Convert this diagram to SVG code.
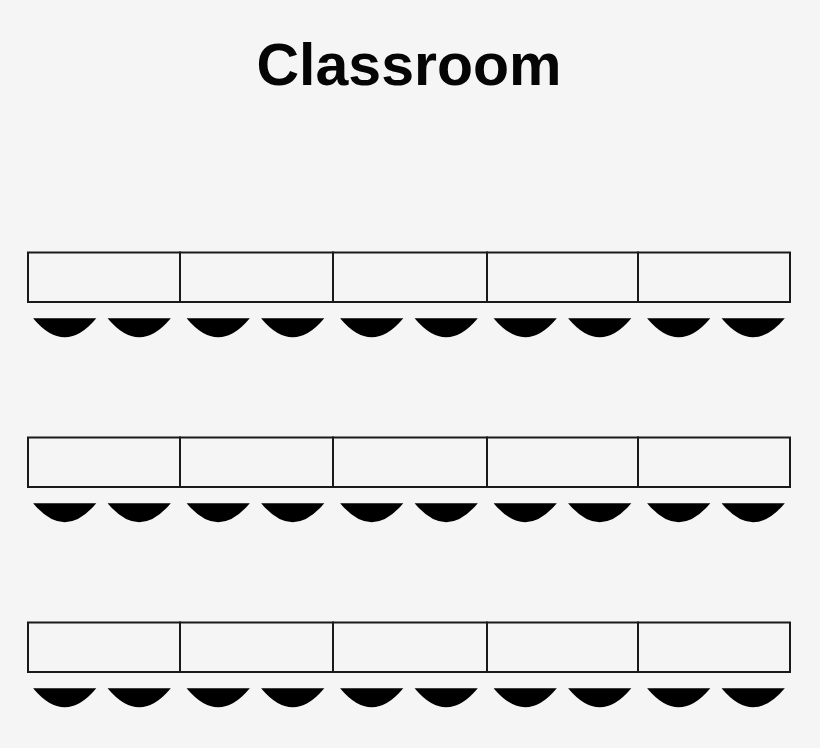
<svg xmlns="http://www.w3.org/2000/svg" xmlns:xlink="http://www.w3.org/1999/xlink" width="820" height="748" viewBox="0 0 820 748">
<style>
.title{font-family:"Liberation Sans",Arial,sans-serif;font-weight:bold;font-size:60px;fill:#050505}
.desk{fill:#f5f5f5;stroke:#1a1a1a;stroke-width:2}
.chair{fill:#000}
</style>
<defs>
<path id="chair" class="chair" d="M-31.6,0 Q0,38 31.6,0 Z"/>
</defs>
<rect width="820" height="748" fill="#f5f5f5"/>
<text class="title" x="409" y="85" text-anchor="middle" textLength="305" lengthAdjust="spacingAndGlyphs">Classroom</text>

<g id="row1">
<g id="desk-1-1"><rect class="desk" x="28" y="252.5" width="152" height="49.5"/><use xlink:href="#chair" x="64.7" y="318.2"/><use xlink:href="#chair" x="139.2" y="318.2"/></g>
<g id="desk-1-2"><rect class="desk" x="180" y="252.5" width="153" height="49.5"/><use xlink:href="#chair" x="218.2" y="318.2"/><use xlink:href="#chair" x="292.7" y="318.2"/></g>
<g id="desk-1-3"><rect class="desk" x="333" y="252.5" width="154" height="49.5"/><use xlink:href="#chair" x="371.7" y="318.2"/><use xlink:href="#chair" x="446.2" y="318.2"/></g>
<g id="desk-1-4"><rect class="desk" x="487" y="252.5" width="151" height="49.5"/><use xlink:href="#chair" x="525.2" y="318.2"/><use xlink:href="#chair" x="599.7" y="318.2"/></g>
<g id="desk-1-5"><rect class="desk" x="638" y="252.5" width="152" height="49.5"/><use xlink:href="#chair" x="678.7" y="318.2"/><use xlink:href="#chair" x="753.2" y="318.2"/></g>
</g>

<g id="row2">
<g id="desk-2-1"><rect class="desk" x="28" y="437.5" width="152" height="49.5"/><use xlink:href="#chair" x="64.7" y="503.2"/><use xlink:href="#chair" x="139.2" y="503.2"/></g>
<g id="desk-2-2"><rect class="desk" x="180" y="437.5" width="153" height="49.5"/><use xlink:href="#chair" x="218.2" y="503.2"/><use xlink:href="#chair" x="292.7" y="503.2"/></g>
<g id="desk-2-3"><rect class="desk" x="333" y="437.5" width="154" height="49.5"/><use xlink:href="#chair" x="371.7" y="503.2"/><use xlink:href="#chair" x="446.2" y="503.2"/></g>
<g id="desk-2-4"><rect class="desk" x="487" y="437.5" width="151" height="49.5"/><use xlink:href="#chair" x="525.2" y="503.2"/><use xlink:href="#chair" x="599.7" y="503.2"/></g>
<g id="desk-2-5"><rect class="desk" x="638" y="437.5" width="152" height="49.5"/><use xlink:href="#chair" x="678.7" y="503.2"/><use xlink:href="#chair" x="753.2" y="503.2"/></g>
</g>

<g id="row3">
<g id="desk-3-1"><rect class="desk" x="28" y="622.5" width="152" height="49.5"/><use xlink:href="#chair" x="64.7" y="688.2"/><use xlink:href="#chair" x="139.2" y="688.2"/></g>
<g id="desk-3-2"><rect class="desk" x="180" y="622.5" width="153" height="49.5"/><use xlink:href="#chair" x="218.2" y="688.2"/><use xlink:href="#chair" x="292.7" y="688.2"/></g>
<g id="desk-3-3"><rect class="desk" x="333" y="622.5" width="154" height="49.5"/><use xlink:href="#chair" x="371.7" y="688.2"/><use xlink:href="#chair" x="446.2" y="688.2"/></g>
<g id="desk-3-4"><rect class="desk" x="487" y="622.5" width="151" height="49.5"/><use xlink:href="#chair" x="525.2" y="688.2"/><use xlink:href="#chair" x="599.7" y="688.2"/></g>
<g id="desk-3-5"><rect class="desk" x="638" y="622.5" width="152" height="49.5"/><use xlink:href="#chair" x="678.7" y="688.2"/><use xlink:href="#chair" x="753.2" y="688.2"/></g>
</g>

<g id="connectors"></g>
</svg>
